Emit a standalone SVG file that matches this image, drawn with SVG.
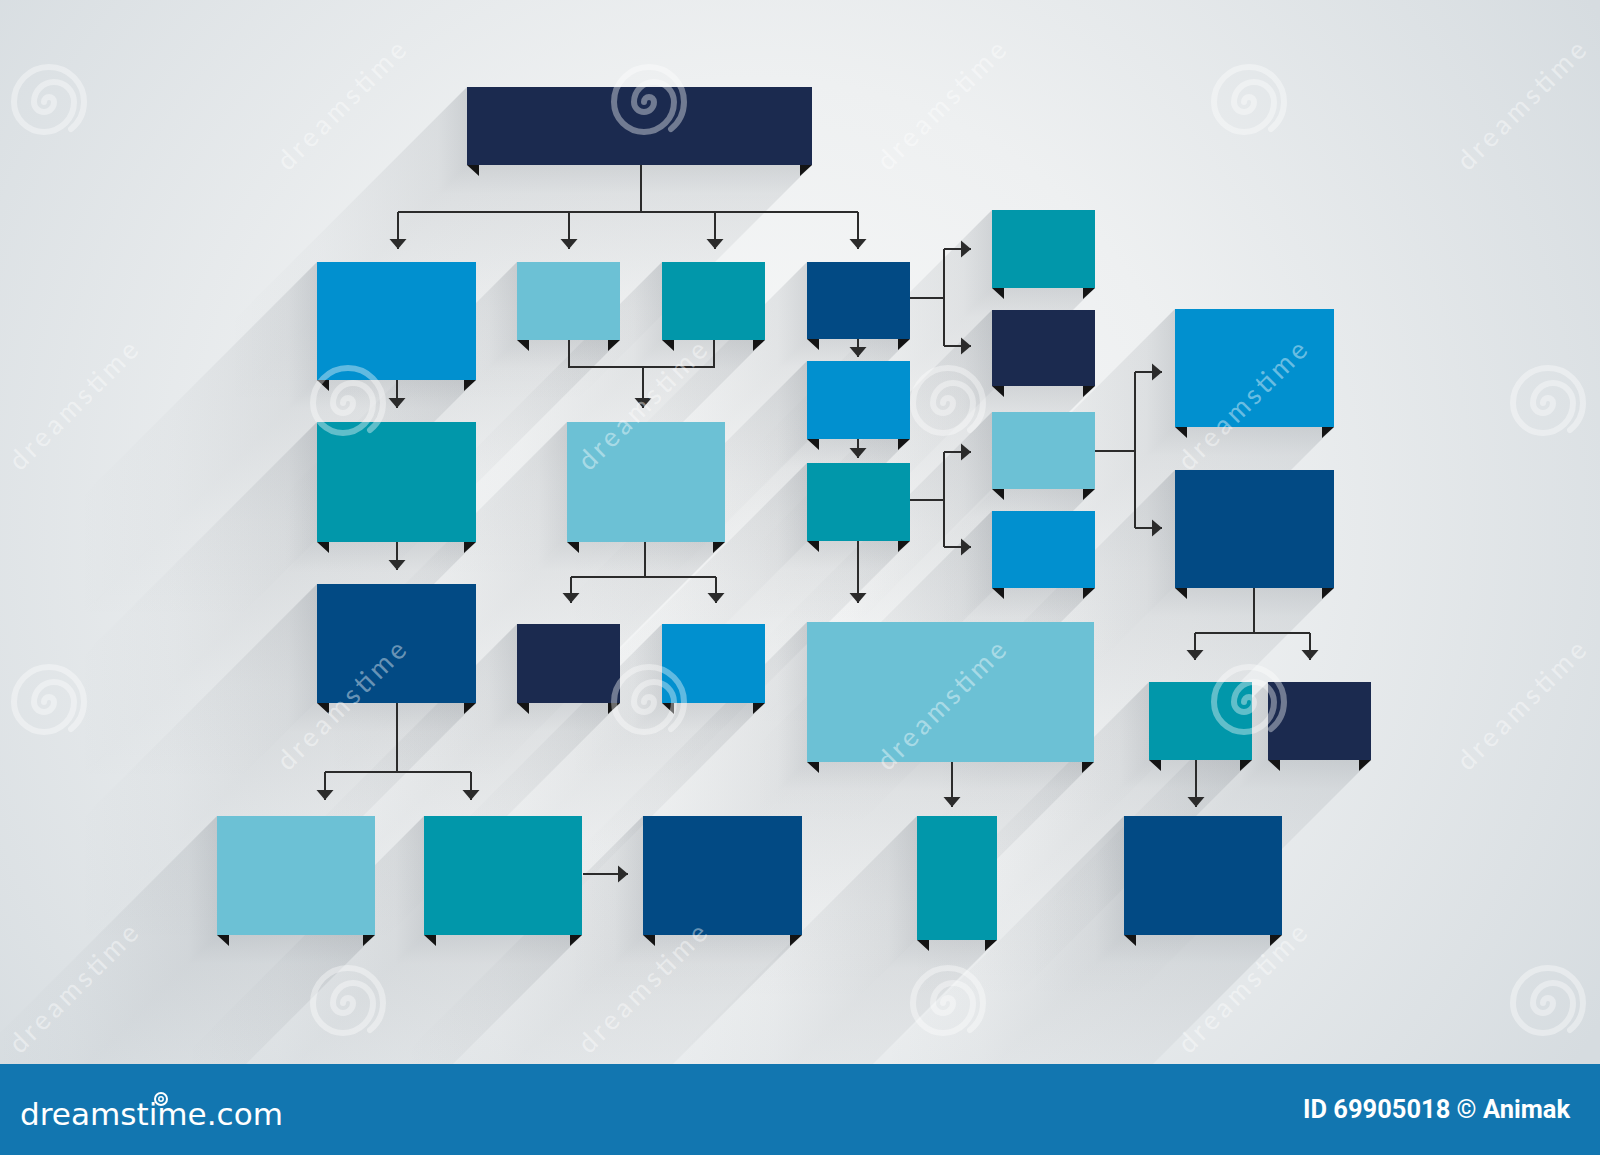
<svg xmlns="http://www.w3.org/2000/svg" width="1600" height="1155" viewBox="0 0 1600 1155">
<defs>
<radialGradient id="bg" cx="760" cy="520" r="980" gradientUnits="userSpaceOnUse">
<stop offset="0" stop-color="#f8f9f9"/>
<stop offset="0.45" stop-color="#eef0f1"/>
<stop offset="1" stop-color="#d6dce0"/>
</radialGradient>
<linearGradient id="gL" x1="1" y1="0" x2="0" y2="0">
<stop offset="0" stop-color="#2a3440" stop-opacity="0.16"/>
<stop offset="0.12" stop-color="#2a3440" stop-opacity="0.09"/>
<stop offset="0.6" stop-color="#2a3440" stop-opacity="0.025"/>
<stop offset="1" stop-color="#2a3440" stop-opacity="0"/>
</linearGradient>
<linearGradient id="gB" x1="0" y1="0" x2="0" y2="1">
<stop offset="0" stop-color="#2a3440" stop-opacity="0.16"/>
<stop offset="0.12" stop-color="#2a3440" stop-opacity="0.09"/>
<stop offset="0.6" stop-color="#2a3440" stop-opacity="0.025"/>
<stop offset="1" stop-color="#2a3440" stop-opacity="0"/>
</linearGradient>
<marker id="ah" markerUnits="userSpaceOnUse" markerWidth="11" markerHeight="18" refX="10" refY="9" orient="auto" viewBox="0 0 11 18">
<path d="M0,0.5 L10,9 L0,17.5 z" fill="#2b2b2b"/>
</marker>
<path id="spiral" d="M-5,0 A5,5 0 0 1 5,0 A10,10 0 0 1 -15,0 A20,20 0 0 1 25,0 A30,30 0 0 1 -35,0 A35,35 0 0 1 35,0 A35,35 0 0 1 22,27"/>
</defs>
<style>
.sl{fill:url(#gL)}
.sb{fill:url(#gB)}
.fold{fill:#141414}
.dk{fill:#1b2a4f}
.nv{fill:#024a84}
.bl{fill:#0190cf}
.lt{fill:#6cc1d5}
.tl{fill:#0197aa}
.con{fill:none;stroke:#2b2b2b;stroke-width:2}
.arr{fill:none;stroke:#2b2b2b;stroke-width:2;marker-end:url(#ah)}
.wm{fill:none;stroke:#ffffff;stroke-width:6;stroke-opacity:0.38;stroke-linecap:round}
.wt{font-family:"Lato","DejaVu Sans",sans-serif;font-size:27px;fill:#ffffff;fill-opacity:0.42;text-anchor:middle}
</style>

<rect x="0" y="0" width="1600" height="1155" fill="url(#bg)"/>

<g id="shadows">
<polygon class="sl" points="467,87 467,165 227,405 227,327"/><polygon class="sb" points="467,165 812,165 572,405 227,405"/>
<polygon class="sl" points="317,262 317,380 77,620 77,502"/><polygon class="sb" points="317,380 476,380 236,620 77,620"/>
<polygon class="sl" points="517,262 517,340 277,580 277,502"/><polygon class="sb" points="517,340 620,340 380,580 277,580"/>
<polygon class="sl" points="662,262 662,340 422,580 422,502"/><polygon class="sb" points="662,340 765,340 525,580 422,580"/>
<polygon class="sl" points="807,262 807,339 567,579 567,502"/><polygon class="sb" points="807,339 910,339 670,579 567,579"/>
<polygon class="sl" points="992,210 992,288 752,528 752,450"/><polygon class="sb" points="992,288 1095,288 855,528 752,528"/>
<polygon class="sl" points="992,310 992,386 752,626 752,550"/><polygon class="sb" points="992,386 1095,386 855,626 752,626"/>
<polygon class="sl" points="992,412 992,489 752,729 752,652"/><polygon class="sb" points="992,489 1095,489 855,729 752,729"/>
<polygon class="sl" points="992,511 992,588 752,828 752,751"/><polygon class="sb" points="992,588 1095,588 855,828 752,828"/>
<polygon class="sl" points="1175,309 1175,427 935,667 935,549"/><polygon class="sb" points="1175,427 1334,427 1094,667 935,667"/>
<polygon class="sl" points="1175,470 1175,588 935,828 935,710"/><polygon class="sb" points="1175,588 1334,588 1094,828 935,828"/>
<polygon class="sl" points="807,361 807,439 567,679 567,601"/><polygon class="sb" points="807,439 910,439 670,679 567,679"/>
<polygon class="sl" points="807,463 807,541 567,781 567,703"/><polygon class="sb" points="807,541 910,541 670,781 567,781"/>
<polygon class="sl" points="317,422 317,542 77,782 77,662"/><polygon class="sb" points="317,542 476,542 236,782 77,782"/>
<polygon class="sl" points="567,422 567,542 327,782 327,662"/><polygon class="sb" points="567,542 725,542 485,782 327,782"/>
<polygon class="sl" points="317,584 317,703 77,943 77,824"/><polygon class="sb" points="317,703 476,703 236,943 77,943"/>
<polygon class="sl" points="517,624 517,703 277,943 277,864"/><polygon class="sb" points="517,703 620,703 380,943 277,943"/>
<polygon class="sl" points="662,624 662,703 422,943 422,864"/><polygon class="sb" points="662,703 765,703 525,943 422,943"/>
<polygon class="sl" points="807,622 807,762 567,1002 567,862"/><polygon class="sb" points="807,762 1094,762 854,1002 567,1002"/>
<polygon class="sl" points="1149,682 1149,760 909,1000 909,922"/><polygon class="sb" points="1149,760 1252,760 1012,1000 909,1000"/>
<polygon class="sl" points="1268,682 1268,760 1028,1000 1028,922"/><polygon class="sb" points="1268,760 1371,760 1131,1000 1028,1000"/>
<polygon class="sl" points="217,816 217,935 -23,1175 -23,1056"/><polygon class="sb" points="217,935 375,935 135,1175 -23,1175"/>
<polygon class="sl" points="424,816 424,935 184,1175 184,1056"/><polygon class="sb" points="424,935 582,935 342,1175 184,1175"/>
<polygon class="sl" points="643,816 643,935 403,1175 403,1056"/><polygon class="sb" points="643,935 802,935 562,1175 403,1175"/>
<polygon class="sl" points="917,816 917,940 677,1180 677,1056"/><polygon class="sb" points="917,940 997,940 757,1180 677,1180"/>
<polygon class="sl" points="1124,816 1124,935 884,1175 884,1056"/><polygon class="sb" points="1124,935 1282,935 1042,1175 884,1175"/>
</g>

<g id="connectors">
<path class="con" d="M641,165 V212 M398,212 H858"/>
<path class="arr" d="M398,212 V249"/>
<path class="arr" d="M569,212 V249"/>
<path class="arr" d="M715,212 V249"/>
<path class="arr" d="M858,212 V249"/>
<path class="arr" d="M397,380 V408"/>
<path class="con" d="M569,340 V367 H714 V340"/>
<path class="arr" d="M643,367 V408"/>
<path class="con" d="M645,542 V577 M571,577 H716"/>
<path class="arr" d="M571,577 V603"/>
<path class="arr" d="M716,577 V603"/>
<path class="arr" d="M397,542 V570"/>
<path class="con" d="M397,703 V772 M325,772 H471"/>
<path class="arr" d="M325,772 V800"/>
<path class="arr" d="M471,772 V800"/>
<path class="arr" d="M583,874 H628"/>
<path class="arr" d="M858,339 V357"/>
<path class="arr" d="M858,439 V458"/>
<path class="arr" d="M858,541 V603"/>
<path class="con" d="M910,298 H944 M944,249 V346"/>
<path class="arr" d="M944,249 H971"/>
<path class="arr" d="M944,346 H971"/>
<path class="con" d="M910,500 H944 M944,452 V547"/>
<path class="arr" d="M944,452 H971"/>
<path class="arr" d="M944,547 H971"/>
<path class="con" d="M1095,451 H1135 M1135,372 V528"/>
<path class="arr" d="M1135,372 H1162"/>
<path class="arr" d="M1135,528 H1162"/>
<path class="con" d="M1254,588 V633 M1195,633 H1310"/>
<path class="arr" d="M1195,633 V660"/>
<path class="arr" d="M1310,633 V660"/>
<path class="arr" d="M952,762 V807"/>
<path class="arr" d="M1196,760 V807"/>
</g>

<g id="n-top"><rect class="dk" x="467" y="87" width="345" height="78"/><path class="fold" d="M467,165 h12 v11 z M812,165 h-12 v11 z"/></g>
<g id="n-a"><rect class="bl" x="317" y="262" width="159" height="118"/><path class="fold" d="M317,380 h12 v11 z M476,380 h-12 v11 z"/></g>
<g id="n-b"><rect class="lt" x="517" y="262" width="103" height="78"/><path class="fold" d="M517,340 h12 v11 z M620,340 h-12 v11 z"/></g>
<g id="n-c"><rect class="tl" x="662" y="262" width="103" height="78"/><path class="fold" d="M662,340 h12 v11 z M765,340 h-12 v11 z"/></g>
<g id="n-d"><rect class="nv" x="807" y="262" width="103" height="77"/><path class="fold" d="M807,339 h12 v11 z M910,339 h-12 v11 z"/></g>
<g id="n-e"><rect class="tl" x="992" y="210" width="103" height="78"/><path class="fold" d="M992,288 h12 v11 z M1095,288 h-12 v11 z"/></g>
<g id="n-f"><rect class="dk" x="992" y="310" width="103" height="76"/><path class="fold" d="M992,386 h12 v11 z M1095,386 h-12 v11 z"/></g>
<g id="n-g"><rect class="lt" x="992" y="412" width="103" height="77"/><path class="fold" d="M992,489 h12 v11 z M1095,489 h-12 v11 z"/></g>
<g id="n-h"><rect class="bl" x="992" y="511" width="103" height="77"/><path class="fold" d="M992,588 h12 v11 z M1095,588 h-12 v11 z"/></g>
<g id="n-i"><rect class="bl" x="1175" y="309" width="159" height="118"/><path class="fold" d="M1175,427 h12 v11 z M1334,427 h-12 v11 z"/></g>
<g id="n-j"><rect class="nv" x="1175" y="470" width="159" height="118"/><path class="fold" d="M1175,588 h12 v11 z M1334,588 h-12 v11 z"/></g>
<g id="n-k"><rect class="bl" x="807" y="361" width="103" height="78"/><path class="fold" d="M807,439 h12 v11 z M910,439 h-12 v11 z"/></g>
<g id="n-l"><rect class="tl" x="807" y="463" width="103" height="78"/><path class="fold" d="M807,541 h12 v11 z M910,541 h-12 v11 z"/></g>
<g id="n-m"><rect class="tl" x="317" y="422" width="159" height="120"/><path class="fold" d="M317,542 h12 v11 z M476,542 h-12 v11 z"/></g>
<g id="n-n"><rect class="lt" x="567" y="422" width="158" height="120"/><path class="fold" d="M567,542 h12 v11 z M725,542 h-12 v11 z"/></g>
<g id="n-o"><rect class="nv" x="317" y="584" width="159" height="119"/><path class="fold" d="M317,703 h12 v11 z M476,703 h-12 v11 z"/></g>
<g id="n-p"><rect class="dk" x="517" y="624" width="103" height="79"/><path class="fold" d="M517,703 h12 v11 z M620,703 h-12 v11 z"/></g>
<g id="n-q"><rect class="bl" x="662" y="624" width="103" height="79"/><path class="fold" d="M662,703 h12 v11 z M765,703 h-12 v11 z"/></g>
<g id="n-r"><rect class="lt" x="807" y="622" width="287" height="140"/><path class="fold" d="M807,762 h12 v11 z M1094,762 h-12 v11 z"/></g>
<g id="n-s"><rect class="tl" x="1149" y="682" width="103" height="78"/><path class="fold" d="M1149,760 h12 v11 z M1252,760 h-12 v11 z"/></g>
<g id="n-t"><rect class="dk" x="1268" y="682" width="103" height="78"/><path class="fold" d="M1268,760 h12 v11 z M1371,760 h-12 v11 z"/></g>
<g id="n-u"><rect class="lt" x="217" y="816" width="158" height="119"/><path class="fold" d="M217,935 h12 v11 z M375,935 h-12 v11 z"/></g>
<g id="n-v"><rect class="tl" x="424" y="816" width="158" height="119"/><path class="fold" d="M424,935 h12 v11 z M582,935 h-12 v11 z"/></g>
<g id="n-w"><rect class="nv" x="643" y="816" width="159" height="119"/><path class="fold" d="M643,935 h12 v11 z M802,935 h-12 v11 z"/></g>
<g id="n-x"><rect class="tl" x="917" y="816" width="80" height="124"/><path class="fold" d="M917,940 h12 v11 z M997,940 h-12 v11 z"/></g>
<g id="n-y"><rect class="nv" x="1124" y="816" width="158" height="119"/><path class="fold" d="M1124,935 h12 v11 z M1282,935 h-12 v11 z"/></g>

<g id="watermark">
<use href="#spiral" class="wm" x="49" y="102"/>
<use href="#spiral" class="wm" x="649" y="102"/>
<use href="#spiral" class="wm" x="1249" y="102"/>
<use href="#spiral" class="wm" x="348" y="403"/>
<use href="#spiral" class="wm" x="948" y="403"/>
<use href="#spiral" class="wm" x="1548" y="403"/>
<use href="#spiral" class="wm" x="49" y="702"/>
<use href="#spiral" class="wm" x="649" y="702"/>
<use href="#spiral" class="wm" x="1249" y="702"/>
<use href="#spiral" class="wm" x="348" y="1003"/>
<use href="#spiral" class="wm" x="948" y="1003"/>
<use href="#spiral" class="wm" x="1548" y="1003"/>
<text class="wt" transform="translate(348,112) rotate(-45)" textLength="170">dreamstime</text>
<text class="wt" transform="translate(948,112) rotate(-45)" textLength="170">dreamstime</text>
<text class="wt" transform="translate(1528,112) rotate(-45)" textLength="170">dreamstime</text>
<text class="wt" transform="translate(80,412) rotate(-45)" textLength="170">dreamstime</text>
<text class="wt" transform="translate(649,412) rotate(-45)" textLength="170">dreamstime</text>
<text class="wt" transform="translate(1249,412) rotate(-45)" textLength="170">dreamstime</text>
<text class="wt" transform="translate(348,712) rotate(-45)" textLength="170">dreamstime</text>
<text class="wt" transform="translate(948,712) rotate(-45)" textLength="170">dreamstime</text>
<text class="wt" transform="translate(1528,712) rotate(-45)" textLength="170">dreamstime</text>
<text class="wt" transform="translate(80,995) rotate(-45)" textLength="170">dreamstime</text>
<text class="wt" transform="translate(649,995) rotate(-45)" textLength="170">dreamstime</text>
<text class="wt" transform="translate(1249,995) rotate(-45)" textLength="170">dreamstime</text>
</g>

<g id="banner">
<rect x="0" y="1064" width="1600" height="91" fill="#1276b0"/>
<text x="20" y="1125" font-family="'DejaVu Sans', sans-serif" font-size="31" fill="#ffffff" textLength="263" lengthAdjust="spacingAndGlyphs">dreamstime.com</text>
<circle cx="161" cy="1099" r="6" fill="none" stroke="#ffffff" stroke-width="2"/>
<circle cx="161" cy="1099" r="2.2" fill="none" stroke="#ffffff" stroke-width="1.5"/>
<text x="1303" y="1118" font-family="Roboto, 'Liberation Sans', sans-serif" font-weight="bold" font-size="25" fill="#ffffff" textLength="267" lengthAdjust="spacingAndGlyphs">ID 69905018 © Animak</text>
</g>
</svg>
